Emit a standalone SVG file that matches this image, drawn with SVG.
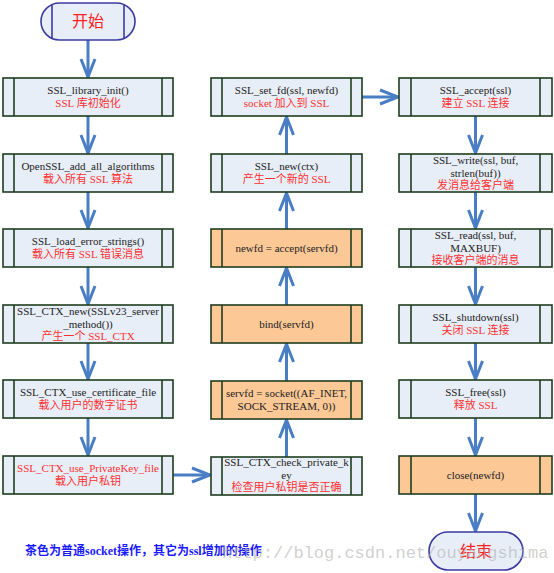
<svg xmlns="http://www.w3.org/2000/svg" width="554" height="573" viewBox="0 0 554 573">
<style>
.box{fill:#e8eef8;stroke:#1e3d1e;stroke-width:1.6}
.org{fill:#fcc896;stroke:#1e3d1e;stroke-width:1.6}
.bar{stroke:#1e3d1e;stroke-width:1.6}
.term{fill:#e8eef8;stroke:#3b3ba0;stroke-width:1.6}
.t{font-family:"Liberation Serif","Noto Sans CJK SC",serif;font-size:11px;fill:#222;text-anchor:middle}
.r{fill:#ff3030}
.big{font-family:"Noto Sans CJK SC",sans-serif;font-size:16px;fill:#ff2020;text-anchor:middle}
.c line{stroke:#4a7ec4;stroke-width:3;marker-end:url(#ah)}
</style>
<defs>
<marker id="ah" markerUnits="userSpaceOnUse" markerWidth="24" markerHeight="20" viewBox="-20 -10 24 20" refX="0" refY="0" orient="auto">
<path d="M-18,-7 L0,0 L-18,7" fill="none" stroke="#4a7ec4" stroke-width="3"/>
</marker>
</defs>
<rect width="554" height="573" fill="#fff"/>
<g class="c" id="connectors">
<line x1="88" y1="40" x2="88" y2="77"/>
<line x1="88" y1="116" x2="88" y2="153"/>
<line x1="88" y1="192" x2="88" y2="228"/>
<line x1="88" y1="267" x2="88" y2="304"/>
<line x1="88" y1="343" x2="88" y2="379"/>
<line x1="88" y1="418" x2="88" y2="455"/>
<line x1="173" y1="475" x2="210" y2="475"/>
<line x1="286.5" y1="457" x2="286.5" y2="420"/>
<line x1="286.5" y1="381" x2="286.5" y2="344"/>
<line x1="286.5" y1="305" x2="286.5" y2="268"/>
<line x1="286.5" y1="229" x2="286.5" y2="193"/>
<line x1="286.5" y1="154" x2="286.5" y2="117"/>
<line x1="362" y1="97" x2="398" y2="97"/>
<line x1="475.5" y1="116" x2="475.5" y2="153"/>
<line x1="475.5" y1="192" x2="475.5" y2="228"/>
<line x1="475.5" y1="267" x2="475.5" y2="304"/>
<line x1="475.5" y1="343" x2="475.5" y2="379"/>
<line x1="475.5" y1="418" x2="475.5" y2="455"/>
<line x1="475.5" y1="494" x2="475.5" y2="531"/>
</g>
<g id="start">
<rect class="term" x="41" y="3" width="94" height="37" rx="18.5"/>
<line class="bar" x1="52" y1="4" x2="52" y2="39" style="stroke:#3b3ba0"/>
<line class="bar" x1="124" y1="4" x2="124" y2="39" style="stroke:#3b3ba0"/>
<text class="big" x="88" y="27">开始</text>
</g>
<g id="n1"><rect class="box" x="3" y="78" width="170" height="38"/><line class="bar" x1="14" y1="78" x2="14" y2="116"/><line class="bar" x1="162" y1="78" x2="162" y2="116"/>
<text class="t" x="88" y="94">SSL_library_init()</text><text class="t r" x="88" y="107">SSL 库初始化</text></g>
<g id="n2"><rect class="box" x="3" y="154" width="170" height="38"/><line class="bar" x1="14" y1="154" x2="14" y2="192"/><line class="bar" x1="162" y1="154" x2="162" y2="192"/>
<text class="t" x="88" y="170">OpenSSL_add_all_algorithms</text><text class="t r" x="88" y="183">载入所有 SSL 算法</text></g>
<g id="n3"><rect class="box" x="3" y="229" width="170" height="38"/><line class="bar" x1="14" y1="229" x2="14" y2="267"/><line class="bar" x1="162" y1="229" x2="162" y2="267"/>
<text class="t" x="88" y="245">SSL_load_error_strings()</text><text class="t r" x="88" y="258">载入所有 SSL 错误消息</text></g>
<g id="n4"><rect class="box" x="3" y="305" width="170" height="38"/><line class="bar" x1="14" y1="305" x2="14" y2="343"/><line class="bar" x1="162" y1="305" x2="162" y2="343"/>
<text class="t" x="88" y="315">SSL_CTX_new(SSLv23_server</text><text class="t" x="88" y="327.5">_method())</text><text class="t r" x="88" y="340">产生一个 SSL_CTX</text></g>
<g id="n5"><rect class="box" x="3" y="380" width="170" height="38"/><line class="bar" x1="14" y1="380" x2="14" y2="418"/><line class="bar" x1="162" y1="380" x2="162" y2="418"/>
<text class="t" x="88" y="396">SSL_CTX_use_certificate_file</text><text class="t r" x="88" y="409">载入用户的数字证书</text></g>
<g id="n6"><rect class="box" x="3" y="456" width="170" height="38"/><line class="bar" x1="14" y1="456" x2="14" y2="494"/><line class="bar" x1="162" y1="456" x2="162" y2="494"/>
<text class="t r" x="88" y="472">SSL_CTX_use_PrivateKey_file</text><text class="t r" x="88" y="485">载入用户私钥</text></g>

<g id="m1"><rect class="box" x="211" y="78" width="151" height="38"/><line class="bar" x1="222" y1="78" x2="222" y2="116"/><line class="bar" x1="351" y1="78" x2="351" y2="116"/>
<text class="t" x="286.5" y="94">SSL_set_fd(ssl, newfd)</text><text class="t r" x="286.5" y="107">socket 加入到 SSL</text></g>
<g id="m2"><rect class="box" x="211" y="154" width="151" height="38"/><line class="bar" x1="222" y1="154" x2="222" y2="192"/><line class="bar" x1="351" y1="154" x2="351" y2="192"/>
<text class="t" x="286.5" y="170">SSL_new(ctx)</text><text class="t r" x="286.5" y="183">产生一个新的 SSL</text></g>
<g id="m3"><rect class="org" x="211" y="229" width="151" height="38"/><line class="bar" x1="222" y1="229" x2="222" y2="267"/><line class="bar" x1="351" y1="229" x2="351" y2="267"/>
<text class="t" x="286.5" y="252">newfd = accept(servfd)</text></g>
<g id="m4"><rect class="org" x="211" y="305" width="151" height="38"/><line class="bar" x1="222" y1="305" x2="222" y2="343"/><line class="bar" x1="351" y1="305" x2="351" y2="343"/>
<text class="t" x="286.5" y="328">bind(servfd)</text></g>
<g id="m5"><rect class="org" x="211" y="381" width="151" height="38"/><line class="bar" x1="222" y1="381" x2="222" y2="419"/><line class="bar" x1="351" y1="381" x2="351" y2="419"/>
<text class="t" x="286.5" y="397">servfd = socket((AF_INET,</text><text class="t" x="286.5" y="410">SOCK_STREAM, 0))</text></g>
<g id="m6"><rect class="box" x="211" y="457" width="151" height="38"/><line class="bar" x1="222" y1="457" x2="222" y2="495"/><line class="bar" x1="351" y1="457" x2="351" y2="495"/>
<text class="t" x="286.5" y="466">SSL_CTX_check_private_k</text><text class="t" x="286.5" y="478.5">ey</text><text class="t r" x="286.5" y="491">检查用户私钥是否正确</text></g>

<g id="r1"><rect class="box" x="399" y="78" width="153" height="38"/><line class="bar" x1="411" y1="78" x2="411" y2="116"/><line class="bar" x1="540" y1="78" x2="540" y2="116"/>
<text class="t" x="475.5" y="94">SSL_accept(ssl)</text><text class="t r" x="475.5" y="107">建立 SSL 连接</text></g>
<g id="r2"><rect class="box" x="399" y="154" width="153" height="38"/><line class="bar" x1="411" y1="154" x2="411" y2="192"/><line class="bar" x1="540" y1="154" x2="540" y2="192"/>
<text class="t" x="475.5" y="164">SSL_write(ssl, buf,</text><text class="t" x="475.5" y="176.5">strlen(buf))</text><text class="t r" x="475.5" y="189">发消息给客户端</text></g>
<g id="r3"><rect class="box" x="399" y="229" width="153" height="38"/><line class="bar" x1="411" y1="229" x2="411" y2="267"/><line class="bar" x1="540" y1="229" x2="540" y2="267"/>
<text class="t" x="475.5" y="239">SSL_read(ssl, buf,</text><text class="t" x="475.5" y="251.5">MAXBUF)</text><text class="t r" x="475.5" y="264">接收客户端的消息</text></g>
<g id="r4"><rect class="box" x="399" y="305" width="153" height="38"/><line class="bar" x1="411" y1="305" x2="411" y2="343"/><line class="bar" x1="540" y1="305" x2="540" y2="343"/>
<text class="t" x="475.5" y="321">SSL_shutdown(ssl)</text><text class="t r" x="475.5" y="334">关闭 SSL 连接</text></g>
<g id="r5"><rect class="box" x="399" y="380" width="153" height="38"/><line class="bar" x1="411" y1="380" x2="411" y2="418"/><line class="bar" x1="540" y1="380" x2="540" y2="418"/>
<text class="t" x="475.5" y="396">SSL_free(ssl)</text><text class="t r" x="475.5" y="409">释放 SSL</text></g>
<g id="r6"><rect class="org" x="399" y="456" width="153" height="38"/><line class="bar" x1="411" y1="456" x2="411" y2="494"/><line class="bar" x1="540" y1="456" x2="540" y2="494"/>
<text class="t" x="475.5" y="479">close(newfd)</text></g>
<g id="end">
<rect class="term" x="429" y="532" width="94" height="38" rx="19"/>
<text class="big" x="476" y="557">结束</text>
</g>
<text x="25" y="555" font-family="'Liberation Serif','Noto Sans CJK SC',serif" font-size="12" font-weight="bold" fill="#1a1aff">茶色为普通socket操作，其它为ssl增加的操作</text>
<text x="222" y="558" font-family="'Liberation Mono',monospace" font-size="17" fill="#b0b0b0" fill-opacity="0.6">http://blog.csdn.net/ouyangshima</text>
</svg>
